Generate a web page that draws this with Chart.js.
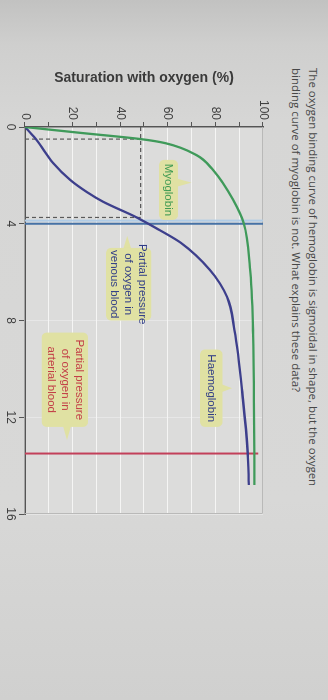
<!DOCTYPE html>
<html>
<head>
<meta charset="utf-8">
<script src="https://cdn.jsdelivr.net/npm/chart.js@4/dist/chart.umd.min.js"></script>
<style>
  html, body { margin: 0; padding: 0; width: 328px; height: 700px; overflow: hidden; }
  body { background: linear-gradient(to bottom, #c2c2c1 0px, #cfcfce 45px, #d6d6d5 120px, #d8d8d7 500px, #d0d0cf 700px); }
  /* the photo is turned a quarter turn, so the chart is drawn upright and rotated */
  #wrap {
    position: absolute; left: 0; top: 0; width: 700px; height: 328px;
    transform-origin: 0 0; transform: translateX(328px) rotate(90deg);
  }
  #question {
    position: absolute; left: 68px; top: 6px; width: 600px;
    font: 11.5px "Open Sans", "Noto Sans", sans-serif; line-height: 17px; color: #474747;
  }
  canvas { position: absolute; left: 0; top: 0; }
</style>
</head>
<body>
<div id="wrap">
  <div id="question">The oxygen binding curve of hemoglobin is sigmoidal in shape, but the oxygen<br>binding curve of myoglobin is not. What explains these data?</div>
  <canvas id="chart" width="700" height="328"></canvas>
</div>
<script>
// partial pressure of oxygen (kPa) and saturation (%)
const myoPressure = [0, 0.25, 0.5, 0.67, 1.16, 1.78, 3.0, 4.0, 5.8, 8.4, 11.3, 14.8];
const myoSaturation = [0, 24, 48.6, 59, 72, 79, 87.4, 92, 94.5, 95.8, 96.2, 96.4];

const hbPressure = [0, 0.54, 1.49, 2.19, 2.69, 3.1, 3.72, 4.26, 4.79, 5.91, 7.02, 8.39, 11.28, 13.5, 14.8];
const hbSaturation = [0, 4.9, 11.8, 19, 26, 33, 46.5, 56.5, 65.5, 77.7, 84.9, 88, 91.6, 93.6, 94.1];

const venousPressure = 4.0;
const arterialPressure = 13.5;
const myoHalf = 0.5;
const hbHalf = 3.74;
const halfSaturation = 48.6;

const pressureTicks = [0, 4, 8, 12, 16];
const saturationTicks = [0, 20, 40, 60, 80, 100];

// callout boxes: text lines, colour, pressure span, saturation span, pointer
const notes = [
    { lines: ["Myoglobin"], color: "#3e9a52", p: [1.36, 3.84], s: [56.3, 64.3], tip: { side: "top", at: 2.3, to: 70 } },
    { lines: ["Partial pressure", "of oxygen in", "venous blood"], color: "#2f3c86", p: [5.0, 8.0], s: [34, 53], tip: { side: "left", at: 43, to: 4.5 } },
    { lines: ["Haemoglobin"], color: "#2f3c86", p: [9.2, 12.4], s: [73.5, 83], tip: { side: "top", at: 10.8, to: 87 } },
    { lines: ["Partial pressure", "of oxygen in", "arterial blood"], color: "#c23b45", p: [8.5, 12.4], s: [7, 26.5], tip: { side: "right", at: 17.6, to: 12.95 } }
];

const pts = (xs, ys) => xs.map((x, i) => ({ x: x, y: ys[i] }));

const plotBack = {
    id: "plotBack",
    beforeDraw(chart) {
        const { ctx, chartArea: a } = chart;
        ctx.save();
        ctx.fillStyle = "#dcdcdb";
        ctx.fillRect(a.left, a.top, a.right - a.left, a.bottom - a.top);
        ctx.restore();
    },
    beforeDatasetsDraw(chart) {
        const { ctx, chartArea: a } = chart;
        ctx.save();
        ctx.strokeStyle = "#b9b9b8";
        ctx.lineWidth = 1;
        ctx.beginPath();
        ctx.moveTo(a.left, a.top + 0.5);
        ctx.lineTo(a.right - 0.5, a.top + 0.5);
        ctx.lineTo(a.right - 0.5, a.bottom);
        ctx.stroke();
        ctx.restore();
    }
};

function roundRect(ctx, x, y, w, h, r) {
    ctx.beginPath();
    ctx.moveTo(x + r, y);
    ctx.arcTo(x + w, y, x + w, y + h, r);
    ctx.arcTo(x + w, y + h, x, y + h, r);
    ctx.arcTo(x, y + h, x, y, r);
    ctx.arcTo(x, y, x + w, y, r);
    ctx.closePath();
}

const callouts = {
    id: "callouts",
    afterDatasetsDraw(chart) {
        const { ctx } = chart;
        const xs = chart.scales.x, ys = chart.scales.y;
        ctx.save();
        notes.forEach(n => {
            const x1 = xs.getPixelForValue(n.p[0]), x2 = xs.getPixelForValue(n.p[1]);
            const y1 = ys.getPixelForValue(n.s[1]), y2 = ys.getPixelForValue(n.s[0]);
            ctx.fillStyle = "#e0e1a3";
            // little pointer towards the thing it names
            ctx.beginPath();
            if (n.tip.side === "top") {
                const tx = xs.getPixelForValue(n.tip.at), ty = ys.getPixelForValue(n.tip.to);
                ctx.moveTo(tx - 4, y1 + 1); ctx.lineTo(tx, ty); ctx.lineTo(tx + 4, y1 + 1);
            } else if (n.tip.side === "left") {
                const ty = ys.getPixelForValue(n.tip.at), tx = xs.getPixelForValue(n.tip.to);
                ctx.moveTo(x1 + 1, ty - 4); ctx.lineTo(tx, ty); ctx.lineTo(x1 + 1, ty + 4);
            } else {
                const ty = ys.getPixelForValue(n.tip.at), tx = xs.getPixelForValue(n.tip.to);
                ctx.moveTo(x2 - 1, ty - 4); ctx.lineTo(tx, ty); ctx.lineTo(x2 - 1, ty + 4);
            }
            ctx.fill();
            roundRect(ctx, x1, y1, x2 - x1, y2 - y1, 5);
            ctx.fill();
            ctx.fillStyle = n.color;
            ctx.font = "11.5px 'Liberation Sans', Arial, sans-serif";
            ctx.textAlign = "center";
            ctx.textBaseline = "middle";
            const cx = (x1 + x2) / 2, cy = (y1 + y2) / 2;
            const lh = 14;
            n.lines.forEach((t, i) => {
                ctx.fillText(t, cx, cy + (i - (n.lines.length - 1) / 2) * lh);
            });
        });
        ctx.restore();
    }
};

new Chart(document.getElementById("chart"), {
    type: "line",
    data: {
        datasets: [
            { data: pts(myoPressure, myoSaturation), borderColor: "#3f9a5a", borderWidth: 2.3, cubicInterpolationMode: "monotone", order: 0 },
            { data: pts(hbPressure, hbSaturation), borderColor: "#3d3f8c", borderWidth: 2.3, cubicInterpolationMode: "monotone", order: 0 },
            { data: pts([venousPressure - 0.13, venousPressure - 0.13], [0, 100]), borderColor: "#b0cce6", borderWidth: 2, order: 1 },
            { data: pts([venousPressure, venousPressure], [0, 100]), borderColor: "#4672a6", borderWidth: 2, order: 1 },
            { data: pts([arterialPressure, arterialPressure], [0, 98]), borderColor: "#c3405a", borderWidth: 2, order: 1 },
            { data: pts([0, hbHalf], [halfSaturation, halfSaturation]), borderColor: "#5a5a5a", borderWidth: 1.2, borderDash: [4, 3], order: 2 },
            { data: pts([myoHalf, myoHalf], [0, halfSaturation]), borderColor: "#5a5a5a", borderWidth: 1.2, borderDash: [4, 3], order: 2 },
            { data: pts([hbHalf, hbHalf], [0, halfSaturation]), borderColor: "#5a5a5a", borderWidth: 1.2, borderDash: [4, 3], order: 2 }
        ]
    },
    options: {
        responsive: false,
        animation: false,
        devicePixelRatio: 1,
        layout: { padding: { left: 70, right: 186, top: 65, bottom: 5 } },
        elements: { point: { radius: 0 }, line: { fill: false } },
        plugins: { legend: { display: false }, tooltip: { enabled: false } },
        scales: {
            x: {
                type: "linear", min: pressureTicks[0], max: pressureTicks[pressureTicks.length - 1],
                afterFit: s => { s.height = 20; },
                afterBuildTicks: s => { s.ticks = pressureTicks.map(v => ({ value: v })); },
                ticks: { color: "#3f3f3f", font: { size: 12, family: "'Liberation Sans', Arial" }, padding: 1 },
                grid: { color: "rgba(240,240,240,0.55)", tickColor: "#555", tickLength: 6 },
                border: { color: "#555", width: 1.5 }
            },
            y: {
                type: "linear", min: 0, max: 100,
                afterFit: s => { s.width = 57; },
                ticks: {
                    stepSize: 10, color: "#3f3f3f", font: { size: 12, family: "'Liberation Sans', Arial" }, padding: 2,
                    callback: v => saturationTicks.includes(v) ? v : ""
                },
                grid: { color: "rgba(246,246,246,0.95)", tickColor: "#555", tickLength: 5 },
                border: { color: "#555", width: 1.5 },
                title: {
                    display: true, text: "Saturation with oxygen (%)", color: "#3a3a3a",
                    font: { size: 14, weight: "bold", family: "'Liberation Sans', Arial" }, padding: { top: 0, bottom: 0 }
                }
            }
        }
    },
    plugins: [plotBack, callouts]
});
</script>
</body>
</html>
